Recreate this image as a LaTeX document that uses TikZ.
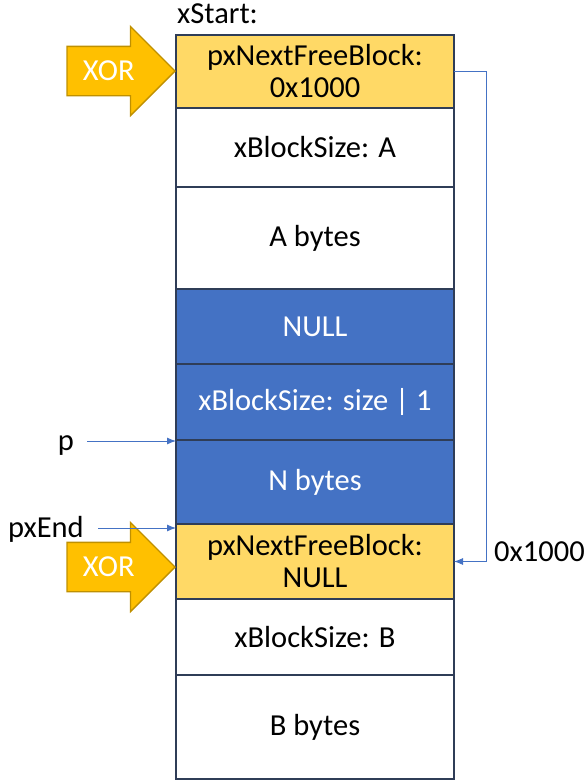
\documentclass[tikz,border=0pt]{standalone}
\usepackage{fontspec}
\setmainfont{Carlito}
\usetikzlibrary{arrows.meta,shapes.arrows}

\definecolor{hdrYellow}{HTML}{FFD966}
\definecolor{usedBlue}{HTML}{4472C4}
\definecolor{rowLine}{HTML}{2F3D57}
\definecolor{xorGold}{HTML}{FFC000}
\definecolor{xorEdge}{HTML}{BF9000}
\definecolor{ptrBlue}{HTML}{4472C4}

\tikzset{
  bigfont/.style={font=\fontsize{30.5}{32}\selectfont},
  cell/.style={draw=rowLine, line width=1.3pt, minimum width=278pt,
    inner sep=0pt, outer sep=0pt, align=center, bigfont},
  hdrCell/.style={cell, fill=hdrYellow},
  dataCell/.style={cell, fill=white},
  usedCell/.style={cell, fill=usedBlue, text=white},
  xorArrow/.style={single arrow, anchor=tip, fill=xorGold, draw=xorEdge,
    line width=1.3pt, minimum height=108pt, inner xsep=0pt, inner ysep=14pt,
    single arrow head extend=20pt, single arrow tip angle=90,
    text=white, bigfont},
  lbl/.style={bigfont, inner sep=0pt},
  ptr/.style={->, ptrBlue, line width=0.9pt},
}

\begin{document}
\begin{tikzpicture}[x=1pt, y=-1pt, >={Latex[length=9pt, width=7pt]}]
\useasboundingbox (0,0) rectangle (584,780);

% heap column, top to bottom
\node[hdrCell,  minimum height=73pt]  (hdrA)   at (315,71.5) {pxNextFreeBlock:\\0x1000};
\node[dataCell, minimum height=79pt]  (sizeA)  at (315,147.5) {xBlockSize: A};
\node[dataCell, minimum height=102pt] (bytesA) at (315,238) {A bytes};
\node[usedCell, minimum height=75pt]  (nullN)  at (315,326.5) {NULL};
\node[usedCell, minimum height=76pt]  (sizeN)  at (315,402) {xBlockSize: size | 1};
\node[usedCell, minimum height=84pt]  (bytesN) at (315,482) {N bytes};
\node[hdrCell,  minimum height=75pt]  (hdrB)   at (315,561.5) {pxNextFreeBlock:\\NULL};
\node[dataCell, minimum height=76pt]  (sizeB)  at (315,637) {xBlockSize: B};
\node[dataCell, minimum height=104pt] (bytesB) at (315,727) {B bytes};

% labels
\node[lbl, anchor=base west] (startLbl) at (177,23) {xStart:};
\node[lbl, anchor=base east] (pLbl) at (74,450) {p};
\node[lbl, anchor=base west] (pxEndLbl) at (8,537) {pxEnd};
\node[lbl, anchor=base west] (nextVal) at (494,561) {0x1000};

% XOR markers on the two headers
\node[xorArrow] (xorA) at (176,71) {XOR};
\node[xorArrow] (xorB) at (176,567) {XOR};

% pointers
\coordinate (pTail) at (87,441);
\draw[ptr] (pTail) -- (pTail -| bytesN.west);
\coordinate (pxEndTail) at (98,528);
\draw[ptr] (pxEndTail) -- (pxEndTail -| hdrB.west);
\draw[ptr] (hdrA.east) -- ++(32,0) |- (hdrB.east);

\end{tikzpicture}
\end{document}
